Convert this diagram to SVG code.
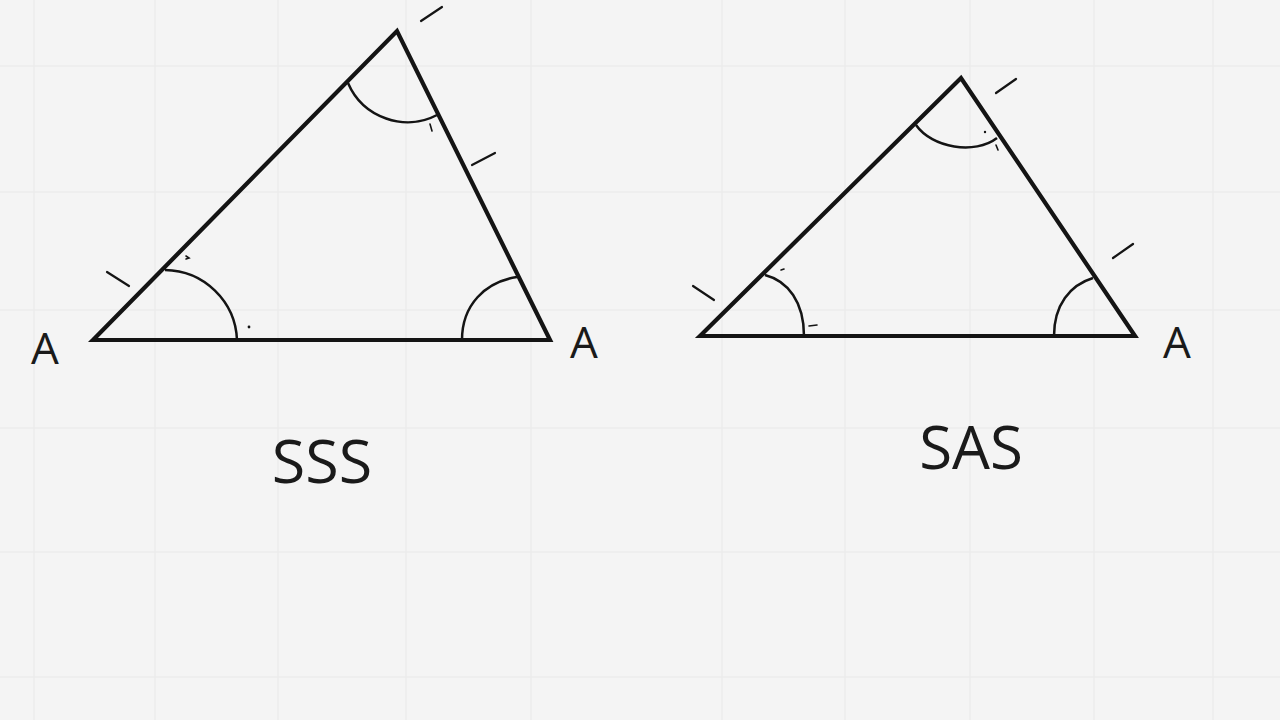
<svg xmlns="http://www.w3.org/2000/svg" width="1280" height="720" viewBox="0 0 1280 720">
<style>
.grid{stroke:#ebebeb;stroke-width:1.5;fill:none}
.tri{fill:none;stroke:#141414;stroke-width:4.2;stroke-linejoin:miter}
.arc{fill:none;stroke:#141414;stroke-width:2.5}
.tick{stroke:#141414;stroke-width:2.2;stroke-linecap:round}
.speck{stroke:#141414;stroke-width:1.6;fill:none;stroke-linecap:round}
.lbl{font-family:"Open Sans","Noto Sans",sans-serif;fill:#1a1a1a;text-anchor:middle}
</style>
<rect width="1280" height="720" fill="#f4f4f4"/>
<g id="grid">
<path class="grid" d="M34 0V720M155 0V720M278 0V720M406 0V720M531 0V720M722 0V720M845 0V720M970 0V720M1094 0V720M1213 0V720"/>
<path class="grid" d="M0 66H1280M0 192H1280M0 310H1280M0 428H1280M0 552H1280M0 677H1280"/>
</g>
<g id="triangle-sss">
<polygon class="tri" points="93,340 397,31 550,340"/>
<path class="arc" d="M165 270 A73 73 0 0 1 237 340"/>
<path class="arc" d="M348 83 C363 118 405 132 437 115"/>
<path class="arc" d="M462 340 C462 305 485 282 517 277"/>
<line class="tick" x1="421" y1="21" x2="442" y2="7"/>
<line class="tick" x1="472" y1="165" x2="495" y2="153"/>
<line class="tick" x1="107" y1="272" x2="129" y2="286"/>
<path class="speck" d="M186 256 L189 258 L186 259"/>
<circle cx="249" cy="327" r="1.4" fill="#141414"/>
<path class="speck" d="M430 124 L432 131"/>
</g>
<g id="triangle-sas">
<polygon class="tri" points="700,336 961,78 1135,336"/>
<path class="arc" d="M765 275 C788 281 804 302 804 336"/>
<path class="arc" d="M916 125 C932 148 975 155 997 138"/>
<path class="arc" d="M1054 336 C1054 305 1070 285 1093 278"/>
<line class="tick" x1="996" y1="93" x2="1016" y2="79"/>
<line class="tick" x1="1113" y1="258" x2="1133" y2="244"/>
<line class="tick" x1="693" y1="286" x2="714" y2="300"/>
<path class="speck" d="M781 270 L784 269"/>
<path class="speck" d="M809 326 L817 325"/>
<circle cx="985" cy="132" r="1.2" fill="#141414"/>
<path class="speck" d="M996 145 L998 150"/>
</g>
<g id="labels">
<text class="lbl" x="45" y="364" font-size="44">A</text>
<text class="lbl" x="584" y="358" font-size="44">A</text>
<text class="lbl" x="1177" y="358" font-size="44">A</text>
<text class="lbl" x="322" y="483" font-size="61">SSS</text>
<text class="lbl" x="971" y="469" font-size="60">SAS</text>
</g>
</svg>
